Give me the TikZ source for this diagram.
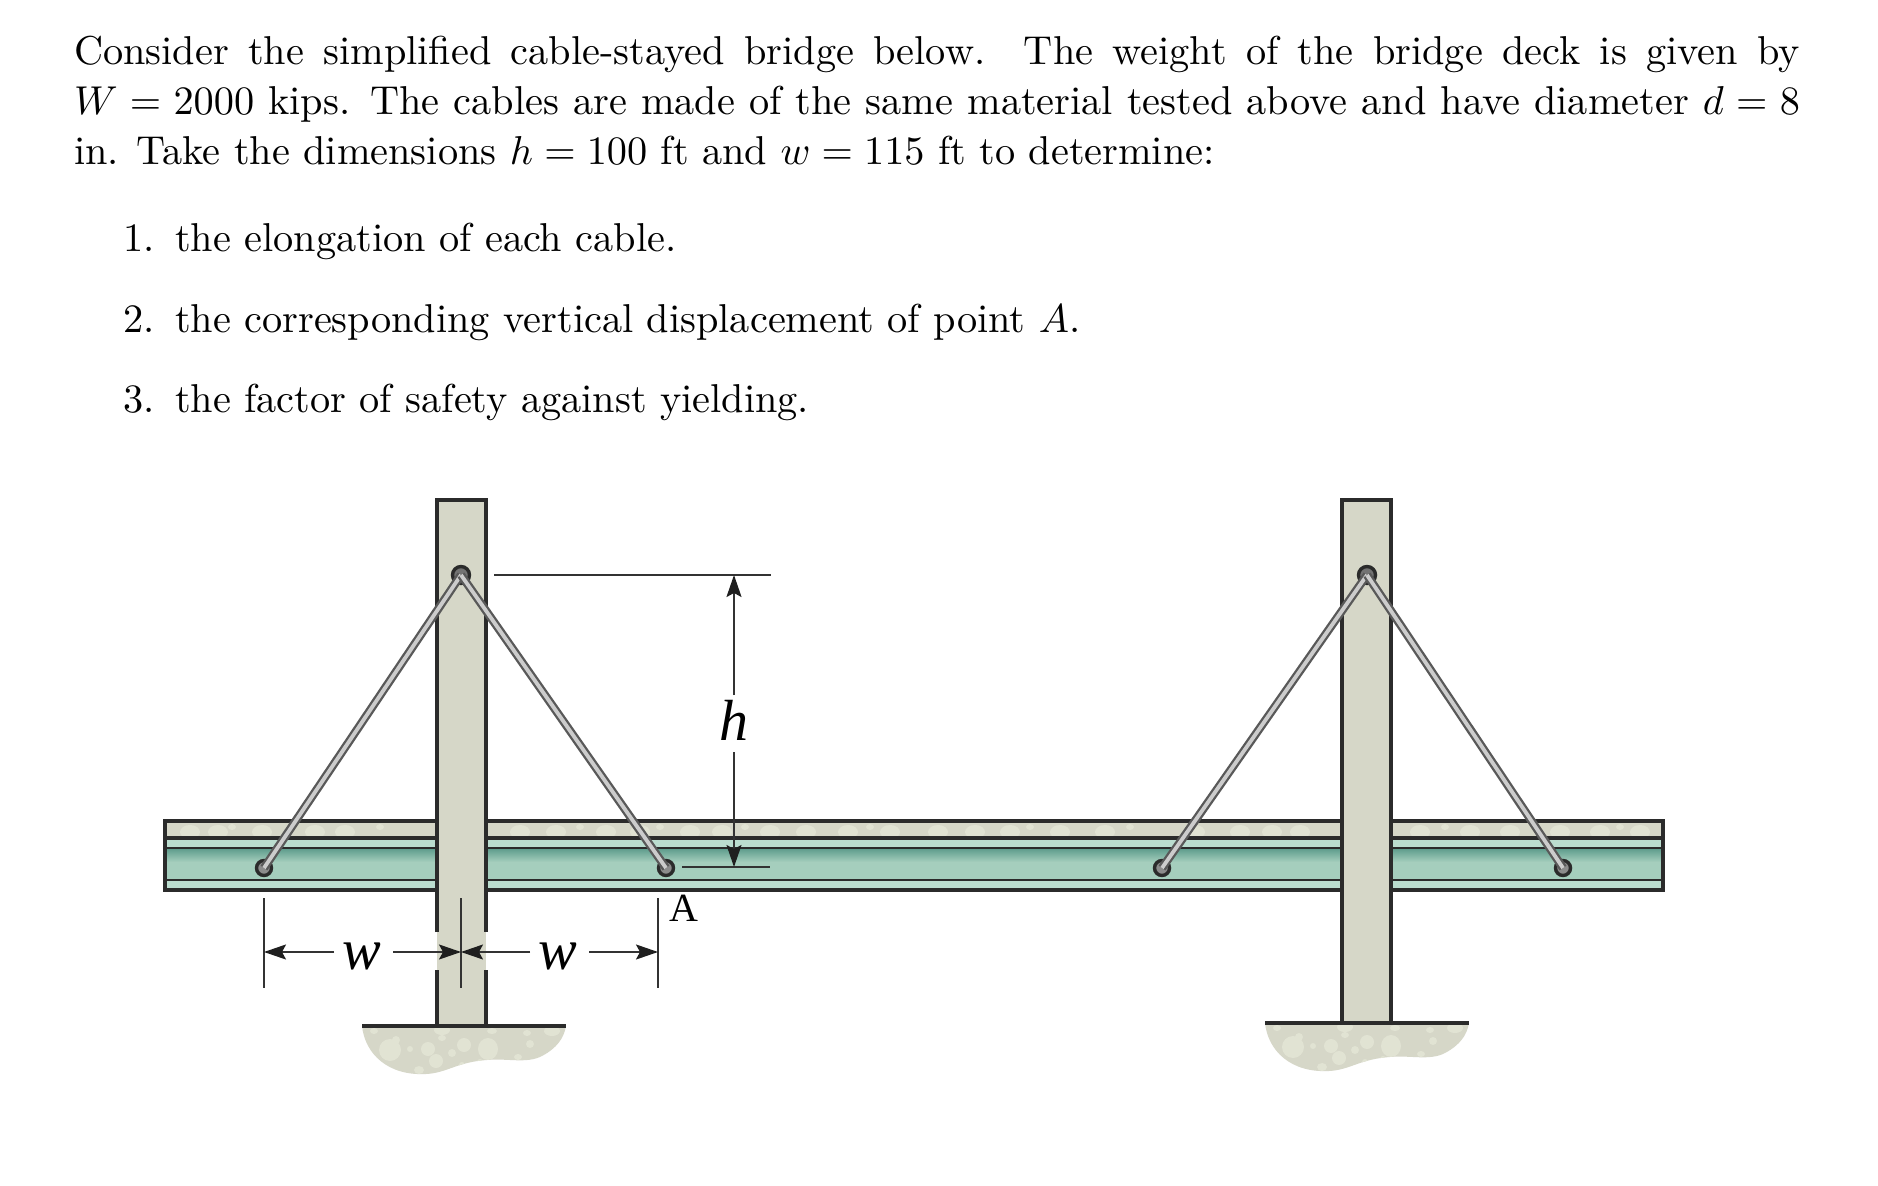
\documentclass[tikz,border=0pt]{standalone}
\usepackage{fontspec}
\usetikzlibrary{arrows.meta}
\newfontfamily\figfont{Liberation Serif}
\definecolor{conc}{HTML}{D6D7C8}
\definecolor{blob}{HTML}{E1E3D3}
\definecolor{linek}{HTML}{2B2B2B}
\definecolor{dimk}{HTML}{333333}
\definecolor{tealL}{HTML}{BBDDCF}
\definecolor{tealM}{HTML}{A5CEBD}
\definecolor{tealD}{HTML}{5B9A8A}
\newcommand{\footingpath}{(0,0) .. controls (3,28) and (26,50) .. (64,48)
      .. controls (85,47) and (95,36) .. (125,34)
      .. controls (145,32) and (165,38) .. (180,30)
      .. controls (195,22) and (202,12) .. (204,0) -- cycle}
\tikzset{
  bodytext/.style={inner sep=0pt,outer sep=0pt,scale=2.015,anchor=base west},
  figlabel/.style={inner sep=0pt,font=\figfont\fontsize{29}{30}\selectfont\itshape},
  heavy/.style={line width=1.9pt,draw=linek},
  thinl/.style={line width=1pt,draw=linek},
  dimline/.style={line width=0.9pt,draw=dimk},
  dimarrow/.style={dimline,-{Stealth[length=11pt,width=7.5pt,inset=2pt,color=black!88]}},
  cableouter/.style={line width=4.2pt,draw=black!65},
  cableinner/.style={line width=1.9pt,draw=black!20},
  anchorpin/.style={circle,minimum size=7.5pt,inner sep=0pt,draw=linek,line width=1.7pt,fill=black!45},
  toppin/.style={circle,minimum size=8.5pt,inner sep=0pt,draw=linek,line width=1.7pt,fill=black!55},
  pics/footing/.style={code={
    \path[fill=conc] \footingpath;
    \begin{scope}
    \clip \footingpath;
    \foreach \bx/\by/\brx/\bry in {28/24/11/11,66/23/7/7,48/23/3/3,74/35/7/7,90/27/4/4,
      102/19/7/7,126/23/10/11,168/18/4/4,100/39/3/3,12/5/4/3,80/4/8/5,130/5/5/3,
      190/5/8/5,156/31/4/3,57/44/5/4,118/36/3/3,80/12/4/3,165/7/4/3,34/14/4/4}
      {\path[fill=blob] (\bx,\by) ellipse[x radius=\brx,y radius=\bry];}
    \end{scope}
    \draw[heavy] (0,0) -- (204,0);
  }}
}
\begin{document}
\begin{tikzpicture}[x=0.5pt,y=-0.5pt]
\useasboundingbox (0,0) rectangle (1878,1186);
\path[fill=white] (0,0) rectangle (1878,1186);

% text
\node[bodytext] (line1) at (74,65) {\makebox[428.3pt][s]{Consider the simplified cable-stayed bridge below.\ \ The weight of the bridge deck is given by}};
\node[bodytext] (line2) at (74,115) {\makebox[428.3pt][s]{$W=2000$ kips. The cables are made of the same material tested above and have diameter $d=8$}};
\node[bodytext] (line3) at (74,165) {in. Take the dimensions $h=100$ ft and $w=115$ ft to determine:};
\node[bodytext] (n1) at (123,252) {1.};
\node[bodytext] (t1) at (175,252) {the elongation of each cable.};
\node[bodytext] (n2) at (123,333) {2.};
\node[bodytext] (t2) at (175,333) {the corresponding vertical displacement of point $A$.};
\node[bodytext] (n3) at (123,413) {3.};
\node[bodytext] (t3) at (175,413) {the factor of safety against yielding.};

% deck
\path[fill=conc] (165,821) rectangle (1663,838);
\begin{scope}
\clip (165,823) rectangle (1663,838);
\foreach \bx in {190,218,262,315,345,520,556,606,640,690,722,770,806,848,890,938,975,1010,1060,1105,1195,1240,1272,1300,1420,1470,1510,1560,1600,1640}
  {\path[fill=blob] (\bx,832) ellipse[x radius=10,y radius=7];}
\foreach \bx in {232,292,380,580,660,745,870,1030,1130,1445,1535,1620}
  {\path[fill=blob] (\bx,827) ellipse[x radius=4,y radius=3];}
\end{scope}
\path[fill=tealL] (165,838) rectangle (1663,848);
\path[fill=tealM] (165,862) rectangle (1663,880);
\path[top color=tealD,bottom color=tealM] (165,848) rectangle (1663,862);
\path[fill=tealL] (165,880) rectangle (1663,890);
\draw[heavy] (1663,821) -- (165,821) -- (165,890) -- (1663,890) -- cycle;
\draw[heavy] (165,838) -- (1663,838);
\draw[thinl] (165,848) -- (1663,848);
\draw[thinl] (165,880) -- (1663,880);

% towers
\path[fill=conc] (437,500) rectangle (486,1026);
\path[fill=conc] (1342,500) rectangle (1391,1023);
\draw[heavy] (437,932) -- (437,500) -- (486,500) -- (486,932);
\draw[heavy] (437,970) -- (437,1026);
\draw[heavy] (486,970) -- (486,1026);
\draw[heavy] (1342,1023) -- (1342,500) -- (1391,500) -- (1391,1023);

% footings
\pic at (362,1026) {footing};
\pic at (1265,1023) {footing};

% pins
\node[toppin] (topL) at (461,575) {};
\node[toppin] (topR) at (1367,575) {};
\node[anchorpin] (pinLL) at (264,868) {};
\node[anchorpin] (pinA) at (666,868) {};
\node[anchorpin] (pinRL) at (1162,868) {};
\node[anchorpin] (pinRR) at (1563,868) {};

% cables
\foreach \a/\b in {topL/pinLL,topL/pinA,topR/pinRL,topR/pinRR}{
  \draw[cableouter] (\a.center) -- (\b.center);
  \draw[cableinner] (\a.center) -- (\b.center);
}

% dimension h
\coordinate (hT0) at (494,575);
\coordinate (hT1) at (771,575);
\coordinate (hB0) at (682,867);
\coordinate (hB1) at (770,867);
\coordinate (hTop) at (734,575);
\coordinate (hBot) at (734,867);
\coordinate (hUp) at (734,695);
\coordinate (hDn) at (734,752);
\node[figlabel] (hlab) at (734,720) {h};
\draw[dimline] (hT0) -- (hT1);
\draw[dimline] (hB0) -- (hB1);
\draw[dimarrow] (hUp) -- (hTop);
\draw[dimarrow] (hDn) -- (hBot);

% dimension w
\coordinate (tickL0) at (264,898);
\coordinate (tickL1) at (264,988);
\coordinate (tickM0) at (461,898);
\coordinate (tickM1) at (461,988);
\coordinate (tickR0) at (658,898);
\coordinate (tickR1) at (658,988);
\coordinate (wL) at (264,952);
\coordinate (wM) at (461,952);
\coordinate (wR) at (658,952);
\coordinate (wLa) at (334,952);
\coordinate (wLb) at (393,952);
\coordinate (wRa) at (530,952);
\coordinate (wRb) at (589,952);
\draw[dimline] (tickL0) -- (tickL1);
\draw[dimline] (tickM0) -- (tickM1);
\draw[dimline] (tickR0) -- (tickR1);
\node[figlabel] (w1) at (362,956) {w};
\node[figlabel] (w2) at (558,956) {w};
\draw[dimarrow] (wLa) -- (wL);
\draw[dimarrow] (wLb) -- (wM);
\draw[dimarrow] (wRa) -- (wM);
\draw[dimarrow] (wRb) -- (wR);

\node[inner sep=0pt,font=\figfont\fontsize{20}{22}\selectfont] (Alab) at (684,908) {A};
\end{tikzpicture}
\end{document}
